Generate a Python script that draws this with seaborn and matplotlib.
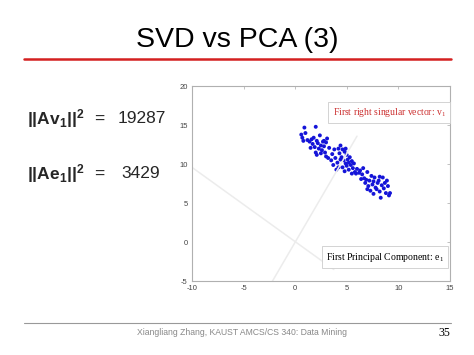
import matplotlib
matplotlib.use("Agg")
import matplotlib.pyplot as plt
import seaborn as sns
import pandas as pd

# scatter data
pts_x = [0.6, 0.7, 0.9, 1.0, 0.8, 1.2, 1.4, 1.6, 1.7, 1.8, 2.0, 1.9, 2.1, 2.2, 2.0, 2.1,
         2.3, 2.4, 2.5, 2.6, 2.7, 2.8, 2.9, 3.0, 3.1, 3.0, 3.2, 2.5, 1.5, 2.8, 3.3,
         3.5, 3.6, 3.8, 3.9, 4.0, 4.1, 4.2, 4.3, 4.4, 4.5, 4.6, 4.6, 4.7, 4.8, 4.8,
         4.9, 5.0, 5.0, 5.1, 5.2, 5.2, 5.3, 5.4, 5.5, 5.6, 5.7, 5.8, 4.2, 4.4, 3.7,
         5.5, 4.9, 5.9,
         6.0, 6.2, 6.3, 6.5, 6.6, 6.7, 6.8, 6.9, 7.0, 7.1, 7.2, 7.3, 7.4, 7.5, 7.6,
         7.7, 7.8, 7.9, 8.0, 8.1, 8.2, 8.3, 8.4, 8.5, 8.6, 8.7, 8.8, 8.9, 9.0, 9.1,
         9.2, 8.2, 7.0, 7.6, 6.4]
pts_y = [13.8, 13.4, 14.7, 14.0, 13.0, 13.1, 12.9, 13.2, 12.6, 13.4, 14.8, 12.2, 13.0, 12.7, 11.5, 11.2,
         12.0, 13.7, 12.4, 11.8, 12.9, 12.3, 11.5, 12.8, 13.3, 11.0, 10.8, 11.4, 12.1, 13.0, 12.1,
         10.5, 11.3, 11.9, 10.8, 9.3, 10.2, 12.0, 11.4, 12.4, 10.9, 9.6, 11.9, 10.5, 11.6, 9.1,
         10.1, 11.2, 9.8, 10.6, 10.2, 9.3, 10.9, 9.9, 8.8, 9.5, 10.1, 9.0, 9.6, 10.6, 9.9,
         10.4, 12.0, 8.8,
         9.4, 8.9, 9.2, 8.7, 9.5, 8.2, 7.6, 8.0, 9.0, 7.2, 7.9, 6.6, 8.5, 7.4, 6.2,
         8.3, 7.0, 6.8, 7.6, 7.9, 6.5, 5.7, 7.3, 8.3, 6.9, 7.6, 6.3, 7.9, 7.2, 6.0,
         6.3, 8.4, 6.8, 7.8, 8.1]

# the two direction lines (end points)
pc_x = [-10.0, 3.75]
pc_y = [9.6, -3.5]
sv_x = [-2.2, 6.0]
sv_y = [-5.0, 13.6]

x_ticks = [-10, -5, 0, 5, 10, 15]
y_ticks = [-5, 0, 5, 10, 15, 20]

norm_labels = [r"$\mathbf{||Av_1||^2}$", r"$\mathbf{||Ae_1||^2}$"]
norm_values = ["19287", "3429"]

sns.set_style("white")
plt.rcParams["font.family"] = ["Liberation Sans", "DejaVu Sans"]
plt.rcParams["mathtext.fontset"] = "custom"
plt.rcParams["mathtext.rm"] = "Liberation Sans"
plt.rcParams["mathtext.bf"] = "Liberation Sans:bold"
plt.rcParams["axes.unicode_minus"] = False

fig = plt.figure(figsize=(4.74, 3.55), dpi=100)
fig.patch.set_facecolor("white")

# title and red rule
fig.text(0.5, 0.888, "SVD vs PCA (3)", ha="center", va="center", fontsize=20.5, color="black")
fig.add_artist(plt.Line2D([0.051, 0.951], [0.834, 0.834], color="#d42020", lw=1.8))

# left hand numbers
for i, (lab, val) in enumerate(zip(norm_labels, norm_values)):
    yy = 0.665 - i * 0.155
    fig.text(0.057, yy, lab, ha="left", va="center", fontsize=12.5)
    fig.text(0.209, yy, "=", ha="center", va="center", fontsize=12.5)
    fig.text(0.249 + (0.008 if i else 0), yy, val, ha="left", va="center", fontsize=12.5)

# footer
fig.add_artist(plt.Line2D([0.051, 0.951], [0.09, 0.09], color="#999999", lw=0.8))
fig.text(0.51, 0.062, "Xiangliang Zhang, KAUST AMCS/CS 340: Data Mining",
         ha="center", va="center", fontsize=6.2, color="#888888")
fig.text(0.938, 0.062, "35", ha="center", va="center", fontsize=8.5,
         family="Liberation Serif", color="black")

ax = fig.add_axes([0.405, 0.208, 0.544, 0.549])
df = pd.DataFrame({"x": pts_x, "y": pts_y})
sns.lineplot(x=pc_x, y=pc_y, color="#ececec", lw=1.1, ax=ax)
sns.lineplot(x=sv_x, y=sv_y, color="#ececec", lw=1.1, ax=ax)
sns.scatterplot(data=df, x="x", y="y", color="#1414d8", s=8, edgecolor="none", ax=ax)

ax.set_xlim(-10, 15)
ax.set_ylim(-5, 20)
ax.set_xticks(x_ticks)
ax.set_yticks(y_ticks)
ax.set_xlabel("")
ax.set_ylabel("")
ax.tick_params(direction="in", length=2, width=0.5, color="#aaaaaa",
               labelsize=5.5, labelcolor="#444444", pad=2.5,
               top=True, right=True)
ax.tick_params(axis="y", pad=3)
for sp in ax.spines.values():
    sp.set_color("#b0b0b0")
    sp.set_linewidth(0.8)

box = dict(boxstyle="square,pad=0.45", facecolor="white", edgecolor="#cccccc", lw=0.6)
ax.text(0.545, 0.866, r"First right singular vector: v$_\mathregular{1}$",
        transform=ax.transAxes, ha="left", va="center", fontsize=6.9,
        family="Liberation Serif", color="#cc3030", bbox=box, clip_on=False)
ax.text(0.52, 0.123, r"First Principal Component: e$_\mathregular{1}$",
        transform=ax.transAxes, ha="left", va="center", fontsize=7.0,
        family="Liberation Serif", color="black", bbox=box, clip_on=False)

fig.savefig("out.png", dpi=100)
